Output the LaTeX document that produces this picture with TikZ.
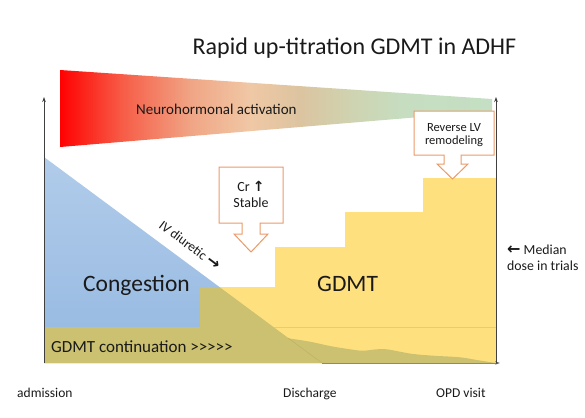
\documentclass[tikz,border=0pt]{standalone}
\usepackage{fontspec}
\setmainfont{Carlito}[Ligatures=TeXOff]
\newfontfamily\arr{DejaVu Sans}
\usetikzlibrary{arrows.meta}
\definecolor{blueT}{HTML}{B1CCEA}
\definecolor{blueB}{HTML}{95B8E1}
\definecolor{gyel}{HTML}{FFE07F}
\definecolor{olv}{HTML}{CBC170}
\definecolor{olvline}{HTML}{BDB264}
\definecolor{stripline}{HTML}{EFCB62}
\definecolor{callout}{HTML}{EC9A68}
\definecolor{txt}{HTML}{1A1A1A}
\definecolor{axisc}{HTML}{404040}
\definecolor{na}{HTML}{FF0000}
\definecolor{nb}{HTML}{F75A45}
\definecolor{nc}{HTML}{F0A585}
\definecolor{nd}{HTML}{F0C8A5}
\definecolor{ne}{HTML}{DCC4A0}
\definecolor{nf}{HTML}{CFD3B0}
\definecolor{ng}{HTML}{C6DDC0}
\definecolor{nh}{HTML}{C5DFC4}
\tikzset{
  lbl/.style={inner sep=0pt, text=txt, anchor=base west},
  lblc/.style={inner sep=0pt, text=txt, anchor=base},
  axis/.style={draw=axisc, line width=0.8pt, -{Stealth[length=5pt,width=3.6pt]}},
  callbox/.style={draw=callout, fill=white, line width=1pt, line join=miter},
}
\begin{document}
\begin{tikzpicture}[x=1pt,y=-1pt]
\useasboundingbox (0,0) rectangle (585,417);

% neurohormonal band
\begin{scope}
\clip (60,70) -- (492,99) -- (492,111) -- (60,147) -- cycle;
\shade[left color=na,right color=nb] (59,60) rectangle (120.5,150);
\shade[left color=nb,right color=nc] (120,60) rectangle (190.5,150);
\shade[left color=nc,right color=nd] (190,60) rectangle (250.5,150);
\shade[left color=nd,right color=ne] (250,60) rectangle (300.5,150);
\shade[left color=ne,right color=nf] (300,60) rectangle (350.5,150);
\shade[left color=nf,right color=ng] (350,60) rectangle (400.5,150);
\shade[left color=ng,right color=nh] (400,60) rectangle (493,150);
\end{scope}

% congestion (blue)
\shade[top color=blueT, bottom color=blueB] (44,157) -- (322,363) -- (44,363) -- cycle;

% GDMT (yellow) steps + strip
\fill[gyel] (44,363) -- (44,327) -- (200,327) -- (200,287) -- (275,287) -- (275,247)
  -- (345,247) -- (345,212) -- (423,212) -- (423,178) -- (496,178) -- (496,363) -- cycle;
\begin{scope}
\clip (44,157) -- (322,363) -- (44,363) -- cycle;
\fill[olv] (44,363) -- (44,327) -- (200,327) -- (200,287) -- (275,287) -- (275,247)
  -- (345,247) -- (345,212) -- (423,212) -- (423,178) -- (496,178) -- (496,363) -- cycle;
\end{scope}
% tail of congestion
\fill[olv] plot[smooth, tension=0.6] coordinates {(288.3,338.3) (310,341.7) (330,346) (350,349.3) (363,350.7) (376.7,349.3) (386.7,349.3) (400,351.7) (413.3,354) (433.3,355.7) (460,357.3) (476.7,360) (496,363)} -- (322,363) -- cycle;
\draw[stripline, line width=0.6pt] (274,327) -- (496,327);
\draw[olvline, line width=0.5pt] (288,338) -- (322,363);

% axes
\coordinate (O) at (44,363);
\coordinate (ytop) at (44,97);
\coordinate (R) at (496,363);
\coordinate (rtop) at (496,97);
\coordinate (foot) at (322,363);
\coordinate (xend) at (500,363);
\draw[axis] (O) -- (ytop);
\draw[axis] (R) -- (rtop);
\draw[axis, draw opacity=0.6] (foot) -- (xend);

% callouts
\draw[callbox] (219,167) -- (283,167) -- (283,223) -- (260,223) -- (260,234) -- (268,234)
  -- (251,252) -- (234,234) -- (242,234) -- (242,223) -- (219,223) -- cycle;
\draw[callbox] (414,111) -- (494,111) -- (494,155) -- (461,155) -- (461,164) -- (468,164)
  -- (452.5,179) -- (437,164) -- (444,164) -- (444,155) -- (414,155) -- cycle;

% texts
\node[lblc, font=\fontsize{24}{28}\selectfont] (title) at (354.5,55) {Rapid up-titration GDMT in ADHF};
\node[lbl, font=\fontsize{15}{18}\selectfont] (neuro) at (136,114) {Neurohormonal activation};
\node[lbl, font=\fontsize{23.5}{28}\selectfont] (cong) at (83,291.5) {Congestion};
\node[lbl, font=\fontsize{23.5}{28}\selectfont] (gdmt) at (317,291) {GDMT};
\node[lbl, font=\fontsize{17}{20}\selectfont] (cont) at (51,352) {GDMT continuation >>>>>};
\node[lbl, font=\fontsize{13.5}{16}\selectfont] (adm) at (17,397) {admission};
\node[lbl, font=\fontsize{13.5}{16}\selectfont] (dis) at (283,397) {Discharge};
\node[lbl, font=\fontsize{13.5}{16}\selectfont] (opd) at (436,397) {OPD visit};
\node[lbl, font=\fontsize{13.8}{16}\selectfont] (med1) at (507,254) {{\arr\bfseries\fontsize{16}{16}\selectfont ←} Median};
\node[lbl, font=\fontsize{13.8}{16}\selectfont] (med2) at (507,270) {dose in trials};
\node[lblc, font=\fontsize{14}{16}\selectfont] (cr1) at (251,191.5) {Cr {\arr\bfseries ↑}};
\node[lblc, font=\fontsize{14}{16}\selectfont] (cr2) at (251,207.5) {Stable};
\node[lblc, font=\fontsize{12.5}{15}\selectfont] (rv1) at (454,131) {Reverse LV};
\node[lblc, font=\fontsize{12.5}{15}\selectfont] (rv2) at (454,144) {remodeling};
\node[lbl, rotate=-37, font=\fontsize{13.5}{16}\selectfont] (iv) at (158,227) {IV diuretic {\arr\bfseries\fontsize{16}{16}\selectfont →}};
\end{tikzpicture}
\end{document}
